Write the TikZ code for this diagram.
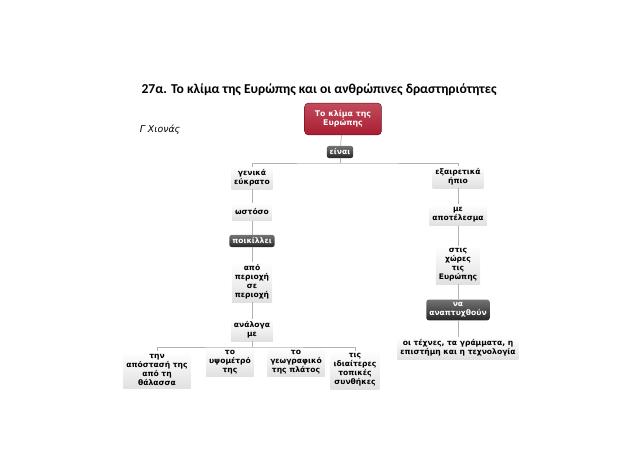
\documentclass[tikz,border=0pt]{standalone}
\usepackage{fontspec}
\setmainfont{DejaVu Sans}
\newfontfamily\titlefont{Carlito}
\usetikzlibrary{positioning}
\definecolor{rootred}{RGB}{178,30,52}
\tikzset{
  concept/.style={rectangle, align=center, font=\fontsize{6.5}{7.6}\selectfont\bfseries, inner sep=2.5pt, minimum height=0.5cm, top color=white, bottom color=black!12, text=black},
  link/.style={rectangle, rounded corners=2pt, align=center, font=\fontsize{6.5}{7.6}\selectfont\bfseries, inner sep=2.5pt, top color=black!55, bottom color=black!85, text=white},
  root/.style={rectangle, rounded corners=3pt, align=center, font=\fontsize{6.7}{7.8}\selectfont\bfseries, minimum width=2.3cm, minimum height=0.95cm, top color=rootred!80, bottom color=rootred!95!black, text=white, draw=rootred!60!black},
  wire/.style={draw=black!30, line width=0.6pt}
}
\begin{document}
\begin{tikzpicture}[x=0.03cm, y=-0.03cm]
    \useasboundingbox (0,0) rectangle (638,451);
    \node (title) at (319,90) {\titlefont\fontsize{11.6}{13}\selectfont\bfseries 27α. Το κλίμα της Ευρώπης και οι ανθρώπινες δραστηριότητες};
    \node (sign) at (160,130) {\fontsize{8}{9}\selectfont\itshape Γ Χιονάς};

    \node (klima) [root] at (343,119) {Το κλίμα της\\Ευρώπης};
    \node (einai) [link] at (340,152) {είναι};
    \coordinate (bar) at (340,163);
    \node (eukrato) [concept] at (252,178) {γενικά\\εύκρατο};
    \node (ostoso) [concept] at (252,212) {ωστόσο};
    \node (poikillei) [link] at (252,241) {ποικίλλει};
    \node (perioxi) [concept] at (252,282) {από\\περιοχή\\σε\\περιοχή};
    \node (analoga) [concept] at (252,330) {ανάλογα\\με};
    \node (thalassa) [concept] at (157,370) {την\\απόστασή της\\από τη\\θάλασσα};
    \node (ipsos) [concept] at (230,362) {το\\υψομέτρό\\της};
    \node (platos) [concept] at (296,362) {το\\γεωγραφικό\\της πλάτος};
    \node (synthikes) [concept] at (355,370) {τις\\ιδιαίτερες\\τοπικές\\συνθήκες};

    \node (ipio) [concept] at (458,177) {εξαιρετικά\\ήπιο};
    \node (apotelesma) [concept] at (458,215) {με\\αποτέλεσμα};
    \node (xores) [concept] at (458,265) {στις\\χώρες\\τις\\Ευρώπης};
    \node (anaptyx) [link] at (458,310) {να\\αναπτυχθούν};
    \node (texnes) [concept] at (458,348) {οι τέχνες, τα γράμματα, η\\επιστήμη και η τεχνολογία};

    \draw [wire] (klima) -- (einai);
    \draw [wire] (einai) -- (bar);
    \draw [wire] (eukrato.north) |- (bar) -| (ipio.north);
    \draw [wire] (eukrato) -- (ostoso);
    \draw [wire] (ostoso) -- (poikillei);
    \draw [wire] (poikillei) -- (perioxi);
    \draw [wire] (perioxi) -- (analoga);
    \coordinate (fork) at (252,347);
    \draw [wire] (analoga) -- (fork);
    \draw [wire] (thalassa.north) |- (fork) -| (synthikes.north);
    \draw [wire] (ipsos.north) -- (ipsos.north |- fork);
    \draw [wire] (platos.north) -- (platos.north |- fork);
    \draw [wire] (ipio) -- (apotelesma);
    \draw [wire] (apotelesma) -- (xores);
    \draw [wire] (xores) -- (anaptyx);
    \draw [wire] (anaptyx) -- (texnes);
\end{tikzpicture}
\end{document}
